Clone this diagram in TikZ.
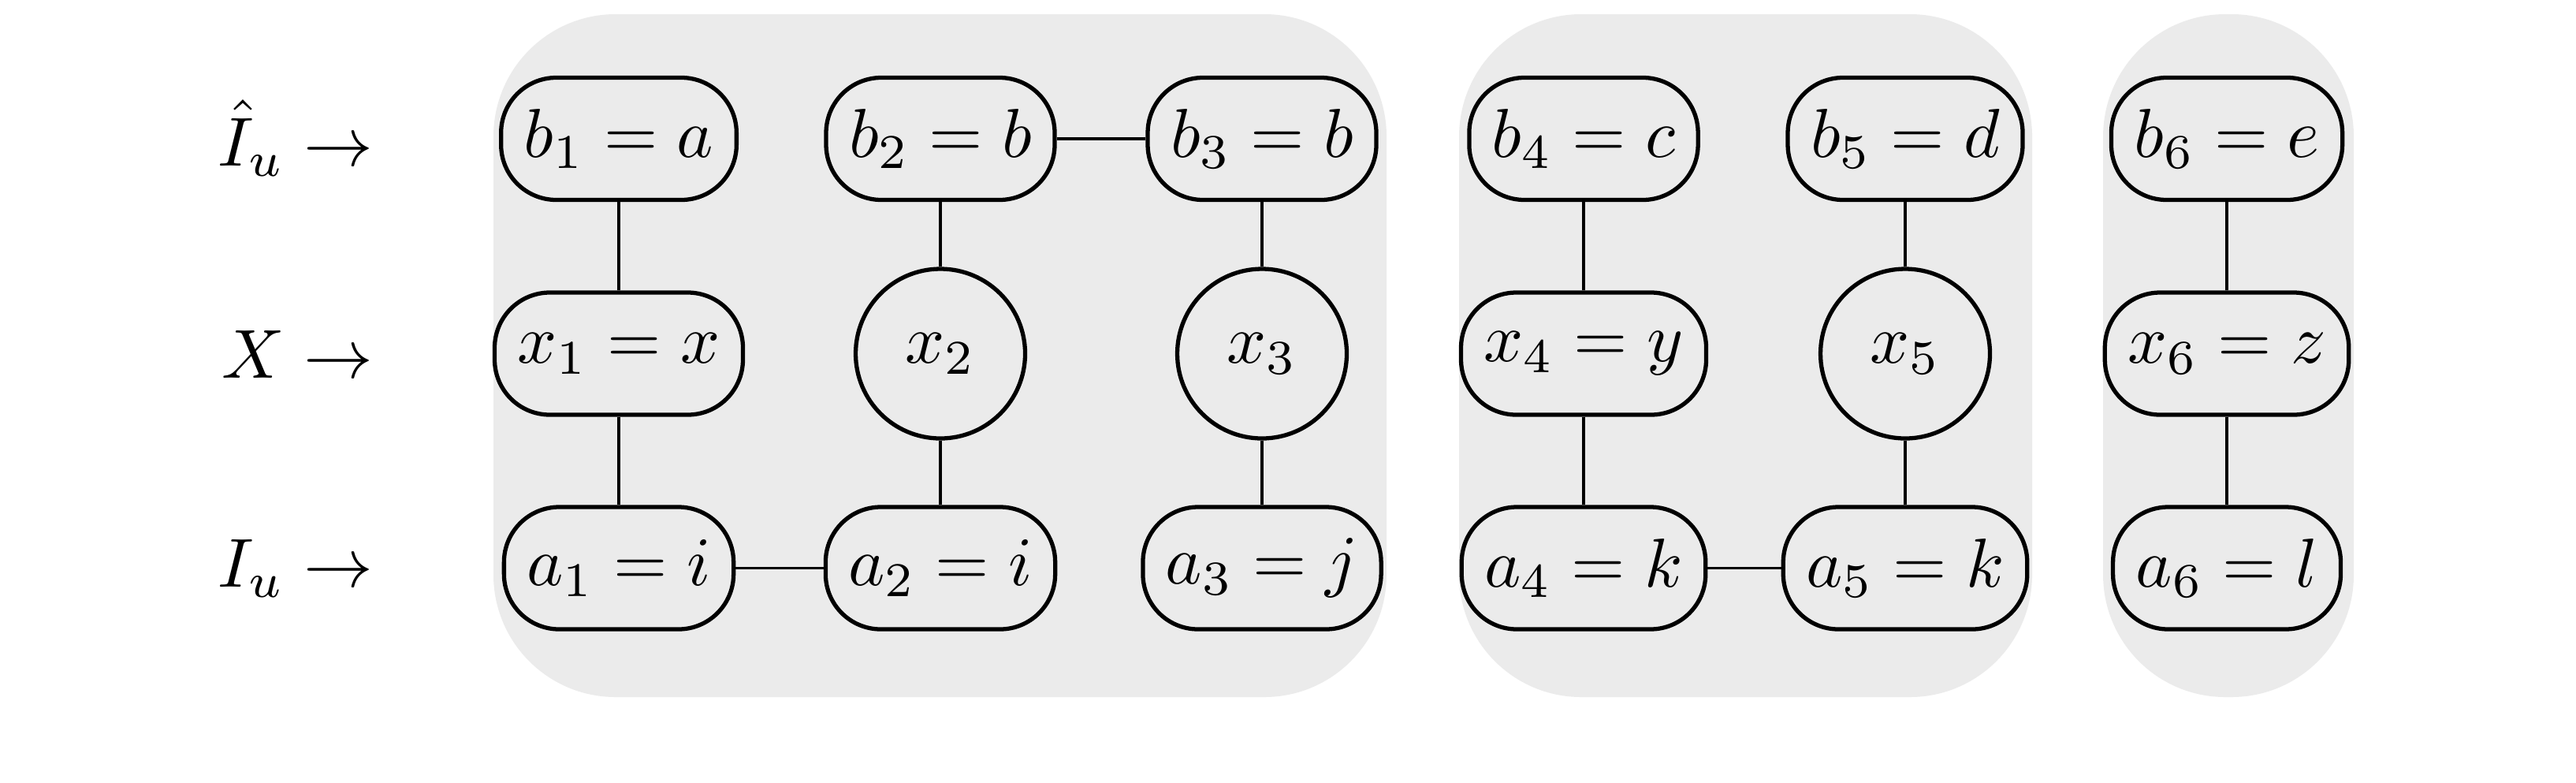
\documentclass[tikz,border=0pt]{standalone}
\usepackage{amsmath}
\definecolor{groupbg}{RGB}{235,235,235}
\tikzset{
  vbox/.style={draw, line width=0.6pt, rounded corners=0.28cm, minimum height=0.62cm, inner xsep=3.3pt, inner ysep=0pt, fill=groupbg},
  vcirc/.style={draw, line width=0.6pt, circle, minimum size=0.86cm, inner sep=0pt, fill=groupbg},
  rowlabel/.style={anchor=base east, inner sep=0pt},
  link/.style={line width=0.42pt},
  group/.style={fill=groupbg, rounded corners=0.62cm}
}
\begin{document}
\begin{tikzpicture}
\useasboundingbox (0,0) rectangle (13.072,-3.968);
% groups
\fill[group] (2.504,-0.072) rectangle (7.036,-3.536);
\fill[group] (7.404,-0.072) rectangle (10.312,-3.536);
\fill[group] (10.672,-0.072) rectangle (11.944,-3.536);
% row labels
\node[rowlabel] (lb) at (1.90,-0.84) {$\hat{I}_u \rightarrow$};
\node[rowlabel] (lx) at (1.90,-1.916) {$X \rightarrow$};
\node[rowlabel] (la) at (1.90,-2.976) {$I_u \rightarrow$};
% top row
\node[vbox] (b1) at (3.14,-0.704) {$b_1 = a$};
\node[vbox] (b2) at (4.772,-0.704) {$b_2 = b$};
\node[vbox] (b3) at (6.404,-0.704) {$b_3 = b$};
\node[vbox] (b4) at (8.036,-0.704) {$b_4 = c$};
\node[vbox] (b5) at (9.668,-0.704) {$b_5 = d$};
\node[vbox] (b6) at (11.30,-0.704) {$b_6 = e$};
% middle row
\node[vbox] (x1) at (3.14,-1.794) {$x_1 = x$};
\node[vcirc] (x2) at (4.772,-1.794) {$x_2$};
\node[vcirc] (x3) at (6.404,-1.794) {$x_3$};
\node[vbox] (x4) at (8.036,-1.794) {$x_4 = y$};
\node[vcirc] (x5) at (9.668,-1.794) {$x_5$};
\node[vbox] (x6) at (11.30,-1.794) {$x_6 = z$};
% bottom row
\node[vbox] (a1) at (3.14,-2.882) {$a_1 = i$};
\node[vbox] (a2) at (4.772,-2.882) {$a_2 = i$};
\node[vbox] (a3) at (6.404,-2.882) {$a_3 = j$};
\node[vbox] (a4) at (8.036,-2.882) {$a_4 = k$};
\node[vbox] (a5) at (9.668,-2.882) {$a_5 = k$};
\node[vbox] (a6) at (11.30,-2.882) {$a_6 = l$};
% links
\draw[link] (b1) -- (x1);
\draw[link] (x1) -- (a1);
\draw[link] (b2) -- (x2);
\draw[link] (x2) -- (a2);
\draw[link] (b3) -- (x3);
\draw[link] (x3) -- (a3);
\draw[link] (b2) -- (b3);
\draw[link] (a1) -- (a2);
\draw[link] (b4) -- (x4);
\draw[link] (x4) -- (a4);
\draw[link] (b5) -- (x5);
\draw[link] (x5) -- (a5);
\draw[link] (a4) -- (a5);
\draw[link] (b6) -- (x6);
\draw[link] (x6) -- (a6);
\end{tikzpicture}
\end{document}
